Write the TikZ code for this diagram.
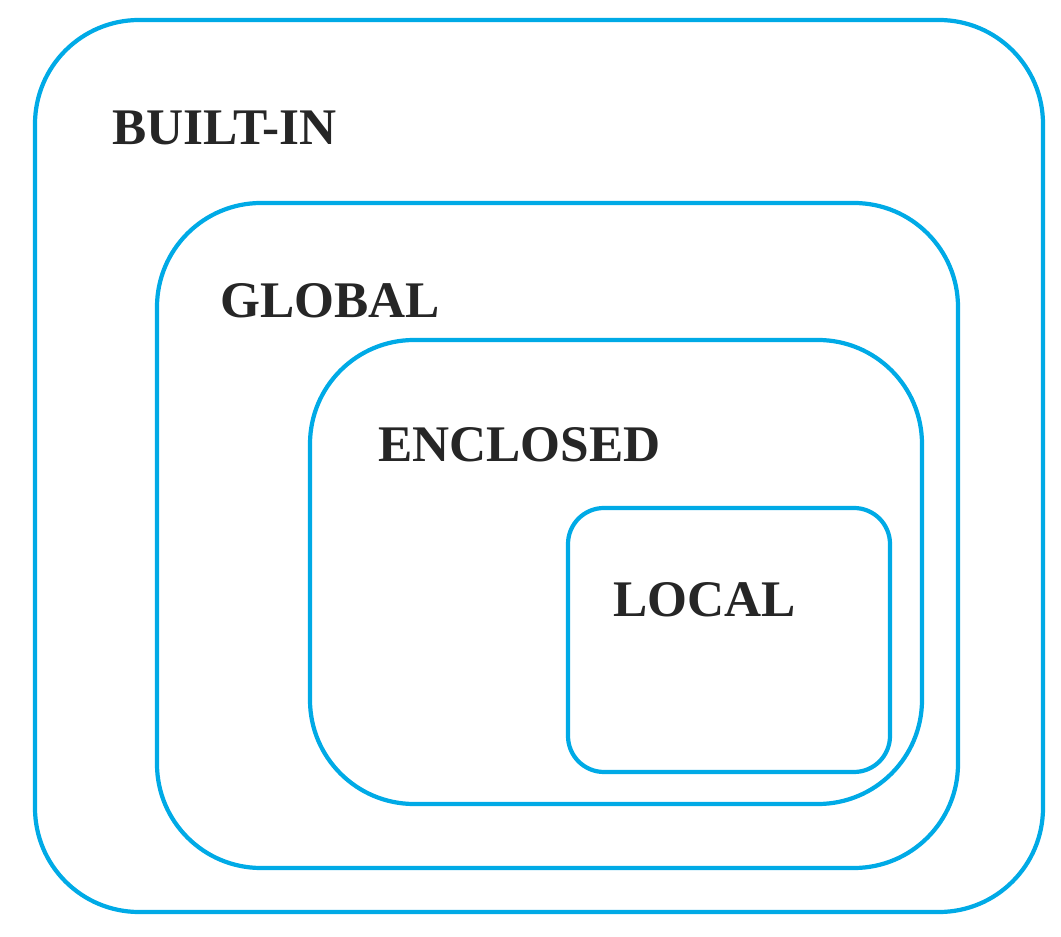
\documentclass[tikz,border=0pt]{standalone}
\usepackage{fontspec}
\setmainfont{Liberation Serif}
\definecolor{scope}{RGB}{0,170,230}
\begin{document}
\begin{tikzpicture}[x=0.025cm,y=-0.025cm,
  box/.style={draw=scope,line width=3pt,rounded corners=#1},
  lbl/.style={anchor=base west,inner sep=0,font=\fontsize{36.5}{40}\selectfont\bfseries,text=black!85}]
\useasboundingbox (0,0) rectangle (1061,937);
\draw[box=2.6cm] (35,20) rectangle (1043,912);
\draw[box=2.6cm] (157,203) rectangle (958,868);
\draw[box=2.6cm] (310,340) rectangle (922,804);
\draw[box=0.9cm] (568,508) rectangle (890,772);
\node[lbl] (builtin) at (112,145) {BUILT-IN};
\node[lbl] (global) at (220,318) {GLOBAL};
\node[lbl] (enclosed) at (378,462) {ENCLOSED};
\node[lbl] (local) at (613,617) {LOCAL};
\end{tikzpicture}
\end{document}
